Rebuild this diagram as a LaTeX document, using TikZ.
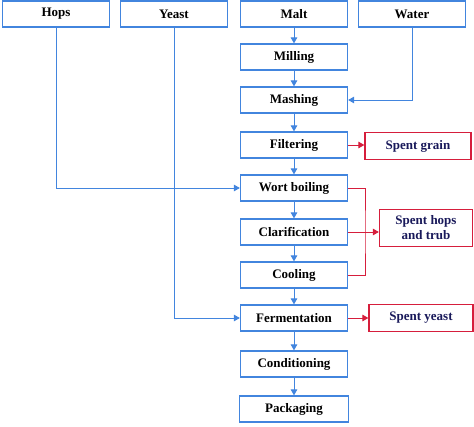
\documentclass[tikz,border=0pt]{standalone}
\usepackage{fontspec}
\setmainfont{Liberation Serif}
\usetikzlibrary{arrows.meta}
\definecolor{flowblue}{RGB}{66,133,222}
\definecolor{wastered}{RGB}{214,30,60}
\definecolor{wastetext}{RGB}{25,25,90}

\begin{document}
\begin{tikzpicture}[x=1pt, y=-1pt,
  procbox/.style={draw=flowblue, line width=1.2pt, minimum width=107pt, minimum height=26pt, font=\bfseries\fontsize{13}{14}\selectfont, inner sep=1pt},
  wastebox/.style={draw=wastered, line width=1.2pt, minimum width=104pt, minimum height=27pt, text=wastetext, align=center, font=\bfseries\fontsize{13}{15}\selectfont, inner sep=1pt},
  flow/.style={draw=flowblue, line width=1pt, -{Triangle[length=6pt,width=6.5pt]}},
  waste/.style={draw=wastered, line width=1pt, -{Triangle[length=6pt,width=6.5pt]}}]
  \useasboundingbox (0,0) rectangle (474,426);

  % Raw materials
  \node[procbox] (hops) at (56,14) {Hops};
  \node[procbox] (yeast) at (174,14) {Yeast};
  \node[procbox] (malt) at (294,14) {Malt};
  \node[procbox] (water) at (412,14) {Water};

  % Process steps
  \node[procbox] (milling) at (294,57) {Milling};
  \node[procbox] (mashing) at (294,100) {Mashing};
  \node[procbox] (filtering) at (294,145) {Filtering};
  \node[procbox] (wort) at (294,188) {Wort boiling};
  \node[procbox] (clar) at (294,232) {Clarification};
  \node[procbox] (cooling) at (294,275) {Cooling};
  \node[procbox] (ferm) at (294,318) {Fermentation};
  \node[procbox] (cond) at (294,364) {Conditioning};
  \node[procbox, minimum width=109pt] (pack) at (294,409) {Packaging};

  % By-products
  \node[wastebox, minimum width=106pt] (grain) at (418,146) {Spent grain};
  \node[wastebox, minimum width=93pt, minimum height=37pt] (trub) at (426,228) {Spent hops\\and trub};
  \node[wastebox] (spyeast) at (421,318) {Spent yeast};
  \coordinate (brk) at (365,232);

  % Arrows
  \draw[flow] (malt) -- (milling);
  \draw[flow] (milling) -- (mashing);
  \draw[flow] (mashing) -- (filtering);
  \draw[flow] (filtering) -- (wort);
  \draw[flow] (wort) -- (clar);
  \draw[flow] (clar) -- (cooling);
  \draw[flow] (cooling) -- (ferm);
  \draw[flow] (ferm) -- (cond);
  \draw[flow] (cond) -- (pack);
  \draw[flow] (water) |- (mashing);
  \draw[flow] (hops) |- (wort);
  \draw[flow] (yeast) |- (ferm);

  \draw[waste] (filtering.east) -- (filtering.east -| grain.west);
  \draw[draw=wastered, line width=1pt] (wort.east) -| (brk) |- (cooling.east);
  \draw[waste] (clar.east) -- (clar.east -| trub.west);
  \draw[waste] (ferm.east) -- (ferm.east -| spyeast.west);
\end{tikzpicture}
\end{document}
